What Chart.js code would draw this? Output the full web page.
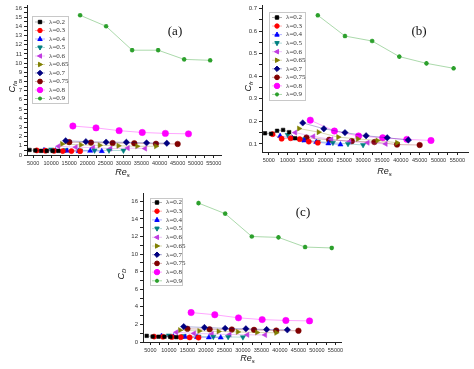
<!DOCTYPE html>
<html>
<head>
<meta charset="utf-8">
<script src="https://cdn.jsdelivr.net/npm/chart.js@4/dist/chart.umd.min.js"></script>
<style>
  body { margin: 0; background: #fff; }
  #wrap { position: relative; width: 474px; height: 369px; }
  canvas { position: absolute; }
</style>
</head>
<body>
<div id="wrap">
  <canvas id="chart-a" width="237" height="185" style="left:0;top:0"></canvas>
  <canvas id="chart-b" width="237" height="185" style="left:237px;top:0"></canvas>
  <canvas id="chart-c" width="280" height="184" style="left:100px;top:185px"></canvas>
</div>
<script>
// series labels
const lambdas = ['0.2', '0.3', '0.4', '0.5', '0.6', '0.65', '0.7', '0.75', '0.8', '0.9'];

// Re_s of each run, one list per lambda
const re02 = [4000, 5600, 7200, 8800, 10400, 12000];
const re03 = [6000, 8400, 10800, 13200, 15600, 18000];
const re04 = [8000, 11200, 14400, 17600, 20800, 24000];
const re05 = [10000, 14000, 18000, 22000, 26000, 30000];
const re06 = [12000, 16800, 21600, 26400, 31200, 36000];
const re065 = [13000, 18200, 23400, 28600, 33800, 39000];
const re07 = [14000, 19600, 25200, 30800, 36400, 42000];
const re075 = [15000, 21000, 27000, 33000, 39000, 45000];
const re08 = [16000, 22400, 28800, 35200, 41600, 48000];
const re09 = [18000, 25200, 32400, 39600, 46800, 54000];
const reSeries = [re02, re03, re04, re05, re06, re065, re07, re075, re08, re09];

// (a) C_fa, rows follow lambdas
const cfaValues = [
  [0.55, 0.5, 0.45, 0.45, 0.45, 0.45],
  [0.5, 0.47, 0.45, 0.43, 0.43, 0.42],
  [0.52, 0.48, 0.45, 0.42, 0.45, 0.42],
  [0.6, 0.55, 0.5, 0.5, 0.5, 0.48],
  [0.95, 0.85, 0.8, 0.7, 0.75, 0.7],
  [1.2, 1.1, 1.05, 1.0, 0.95, 0.95],
  [1.55, 1.45, 1.4, 1.38, 1.32, 1.28],
  [1.4, 1.35, 1.3, 1.28, 1.22, 1.2],
  [3.15, 2.95, 2.65, 2.45, 2.35, 2.3],
  [15.2, 14.0, 11.4, 11.4, 10.4, 10.3]
];

// (b) C_fr
const cfrValues = [
  [0.147, 0.145, 0.158, 0.162, 0.152, 0.125],
  [0.143, 0.123, 0.125, 0.121, 0.11, 0.105],
  [0.135, 0.125, 0.115, 0.108, 0.102, 0.097],
  [0.14, 0.12, 0.11, 0.105, 0.1, 0.095],
  [0.15, 0.133, 0.12, 0.11, 0.105, 0.1],
  [0.168, 0.152, 0.13, 0.122, 0.115, 0.105],
  [0.193, 0.167, 0.15, 0.136, 0.127, 0.117],
  [0.128, 0.118, 0.112, 0.108, 0.097, 0.095],
  [0.205, 0.157, 0.135, 0.127, 0.12, 0.115],
  [0.67, 0.578, 0.556, 0.487, 0.457, 0.435]
];

// (c) C_D
const cdValues = [
  [0.7, 0.62, 0.6, 0.6, 0.58, 0.55],
  [0.62, 0.6, 0.57, 0.55, 0.52, 0.5],
  [0.68, 0.62, 0.58, 0.55, 0.52, 0.5],
  [0.75, 0.68, 0.62, 0.6, 0.58, 0.55],
  [1.1, 0.98, 0.92, 0.85, 0.82, 0.8],
  [1.35, 1.25, 1.2, 1.15, 1.08, 1.05],
  [1.75, 1.65, 1.55, 1.5, 1.42, 1.38],
  [1.5, 1.45, 1.42, 1.38, 1.3, 1.28],
  [3.35, 3.1, 2.75, 2.55, 2.45, 2.4],
  [15.8, 14.6, 12.0, 11.9, 10.8, 10.7]
];

// tick labels
const xTickLabels = [5000, 10000, 15000, 20000, 25000, 30000, 35000, 40000, 45000, 50000, 55000];
const yTicksA = [0, 1, 2, 3, 4, 5, 6, 7, 8, 9, 10, 11, 12, 13, 14, 15, 16];
const yTicksB = [0.1, 0.2, 0.3, 0.4, 0.5, 0.6, 0.7];
const yTicksC = [0, 2, 4, 6, 8, 10, 12, 14, 16];

// marker look per lambda
const markerColors = ['#000000', '#ff0000', '#0000ff', '#008080', '#c03ce0', '#808000', '#000080', '#800000', '#ff00ff', '#2ca02c'];
const lineColors = ['rgba(0,0,0,0.3)', 'rgba(255,0,0,0.3)', 'rgba(0,0,255,0.3)', 'rgba(0,128,128,0.3)', 'rgba(192,60,224,0.3)',
  'rgba(128,128,0,0.3)', 'rgba(0,0,128,0.3)', 'rgba(128,0,0,0.3)', 'rgba(255,0,255,0.35)', 'rgba(44,160,44,0.4)'];
const markerStyles = ['rect', 'circle', 'triangle', 'triangle', 'triangle', 'triangle', 'rectRot', 'circle', 'circle', 'star'];
const markerRotations = [0, 0, 0, 180, 270, 90, 0, 0, 0, 0];
const markerSizes = [2.5, 2.6, 3, 3, 3, 3, 3.2, 2.8, 3.2, 2.3];

// add the minor ticks half way between the labelled ones
function withMinor(major) {
  const out = [];
  major.forEach((v, i) => {
    out.push(v);
    if (i < major.length - 1) out.push((v + major[i + 1]) / 2);
  });
  return out;
}

function drawMarker(ctx, style, rot, x, y, r, color) {
  ctx.save();
  ctx.translate(x, y);
  ctx.rotate(rot * Math.PI / 180);
  ctx.fillStyle = color;
  ctx.strokeStyle = color;
  ctx.lineWidth = 1;
  ctx.beginPath();
  if (style === 'rect') {
    ctx.rect(-r * 0.8, -r * 0.8, r * 1.6, r * 1.6);
  } else if (style === 'circle') {
    ctx.arc(0, 0, r, 0, Math.PI * 2);
  } else if (style === 'triangle') {
    ctx.moveTo(0, -r);
    ctx.lineTo(r * 0.87, r * 0.6);
    ctx.lineTo(-r * 0.87, r * 0.6);
    ctx.closePath();
  } else if (style === 'rectRot') {
    ctx.moveTo(0, -r); ctx.lineTo(r, 0); ctx.lineTo(0, r); ctx.lineTo(-r, 0);
    ctx.closePath();
  } else {
    for (let k = 0; k < 4; k++) {
      const a = k * Math.PI / 4;
      ctx.moveTo(Math.cos(a) * r, Math.sin(a) * r);
      ctx.lineTo(-Math.cos(a) * r, -Math.sin(a) * r);
    }
    ctx.lineWidth = 1.3;
  }
  if (style !== 'star') ctx.fill();
  ctx.stroke();
  ctx.restore();
}

// legend box, panel letter and axis titles with subscripts
const decorPlugin = {
  id: 'decor',
  afterDraw(chart, args, o) {
    const ctx = chart.ctx;
    ctx.save();
    ctx.strokeStyle = '#c8c8c8';
    ctx.lineWidth = 1;
    ctx.strokeRect(o.legend.x + 0.5, o.legend.y + 0.5, o.legend.w, o.legend.h);
    chart.data.datasets.forEach((ds, i) => {
      const y = o.legend.y + o.legend.first + i * o.legend.gap;
      const mx = o.legend.x + o.legend.marker;
      ctx.strokeStyle = ds.borderColor;
      ctx.beginPath();
      ctx.moveTo(mx - 5, y);
      ctx.lineTo(mx + 5, y);
      ctx.stroke();
      drawMarker(ctx, ds.pointStyle, ds.rotation, mx, y, ds.pointRadius * 0.85, ds.pointBackgroundColor);
      ctx.fillStyle = '#333';
      ctx.font = '7px "Liberation Serif"';
      ctx.textBaseline = 'middle';
      ctx.textAlign = 'left';
      ctx.fillText(ds.label, mx + 9, y);
    });

    ctx.fillStyle = '#111';
    ctx.font = '13px "Liberation Serif"';
    ctx.textAlign = 'center';
    ctx.textBaseline = 'middle';
    ctx.fillText(o.letter.text, o.letter.x, o.letter.y);

    // x title Re_s
    ctx.textAlign = 'left';
    ctx.textBaseline = 'alphabetic';
    ctx.font = 'italic 9px "Liberation Sans"';
    const w = ctx.measureText('Re').width;
    ctx.fillText('Re', o.xTitle.x - w / 2 - 1, o.xTitle.y + 3);
    ctx.font = 'italic 6px "Liberation Sans"';
    ctx.fillText('s', o.xTitle.x + w / 2 - 1, o.xTitle.y + 5);

    // y title C_xx, rotated
    ctx.translate(o.yTitle.x, o.yTitle.y);
    ctx.rotate(-Math.PI / 2);
    ctx.font = 'italic 9px "Liberation Sans"';
    const cw = ctx.measureText('C').width;
    ctx.fillText('C', -cw, 3);
    ctx.font = 'italic 6px "Liberation Sans"';
    ctx.fillText(o.yTitle.sub, 0, 5);
    ctx.restore();
  }
};

function makeChart(id, values, p) {
  const datasets = lambdas.map((lab, i) => ({
    label: 'λ=' + lab,
    data: reSeries[i].map((x, j) => ({ x: x, y: values[i][j] })),
    showLine: true,
    borderColor: lineColors[i],
    borderWidth: 1,
    pointStyle: markerStyles[i],
    rotation: markerRotations[i],
    pointRadius: markerSizes[i],
    pointBackgroundColor: markerColors[i],
    pointBorderColor: markerColors[i],
    pointBorderWidth: markerStyles[i] === 'star' ? 1.3 : 0.5,
    tension: 0
  }));

  return new Chart(document.getElementById(id), {
    type: 'scatter',
    data: { datasets: datasets },
    options: {
      responsive: false,
      animation: false,
      layout: { padding: { left: 0, top: p.top, right: p.right, bottom: 0 } },
      plugins: {
        legend: { display: false },
        tooltip: { enabled: false },
        decor: p.decor
      },
      scales: {
        x: {
          type: 'linear',
          min: p.xMin,
          max: p.xMax,
          afterBuildTicks: s => { s.ticks = withMinor(xTickLabels).map(v => ({ value: v })); },
          afterFit: s => { s.height = p.xAxisHeight; },
          ticks: {
            autoSkip: false,
            maxRotation: 0,
            padding: 2,
            color: '#333',
            font: { family: 'Liberation Sans', size: 5.5 },
            callback: v => (xTickLabels.includes(v) ? String(v) : '')
          },
          grid: { drawOnChartArea: false, tickLength: 3, tickColor: '#222' },
          border: { color: '#222', width: 1 }
        },
        y: {
          type: 'linear',
          min: p.yMin,
          max: p.yMax,
          afterBuildTicks: s => { s.ticks = withMinor(p.yTicks).map(v => ({ value: v })); },
          afterFit: s => { s.width = p.yAxisWidth; },
          ticks: {
            autoSkip: false,
            padding: 2,
            color: '#333',
            font: { family: 'Liberation Sans', size: 6 },
            callback: v => {
              const hit = p.yTicks.find(t => Math.abs(t - v) < 1e-9);
              return hit === undefined ? '' : p.yFormat(hit);
            }
          },
          grid: { drawOnChartArea: false, tickLength: 3, tickColor: '#222' },
          border: { color: '#222', width: 1 }
        }
      }
    },
    plugins: [decorPlugin]
  });
}

makeChart('chart-a', cfaValues, {
  top: 5, right: 16, yAxisWidth: 27, xAxisHeight: 30,
  xMin: 3300, xMax: 57000, yMin: 0, yMax: 16.25, yTicks: yTicksA,
  yFormat: v => String(v),
  decor: {
    legend: { x: 32, y: 16, w: 36, h: 87, first: 6, gap: 8.5, marker: 8 },
    letter: { text: '(a)', x: 175, y: 32 },
    xTitle: { x: 122, y: 172 },
    yTitle: { x: 12, y: 86, sub: 'fa' }
  }
});

makeChart('chart-b', cfrValues, {
  top: 2, right: 5, yAxisWidth: 25, xAxisHeight: 33,
  xMin: 3200, xMax: 58000, yMin: 0.064, yMax: 0.713, yTicks: yTicksB,
  yFormat: v => v.toFixed(1),
  decor: {
    legend: { x: 32, y: 12, w: 36, h: 88, first: 5.5, gap: 8.55, marker: 8 },
    letter: { text: '(b)', x: 182, y: 32 },
    xTitle: { x: 147, y: 171 },
    yTitle: { x: 11, y: 85, sub: 'fr' }
  }
});

makeChart('chart-c', cdValues, {
  top: 8, right: 39, yAxisWidth: 43, xAxisHeight: 27,
  xMin: 3000, xMax: 56500, yMin: 0, yMax: 16.95, yTicks: yTicksC,
  yFormat: v => String(v),
  decor: {
    legend: { x: 50, y: 13, w: 32, h: 87, first: 4.5, gap: 8.7, marker: 7 },
    letter: { text: '(c)', x: 203, y: 28 },
    xTitle: { x: 147, y: 173 },
    yTitle: { x: 21, y: 88, sub: 'D' }
  }
});
</script>
</body>
</html>
